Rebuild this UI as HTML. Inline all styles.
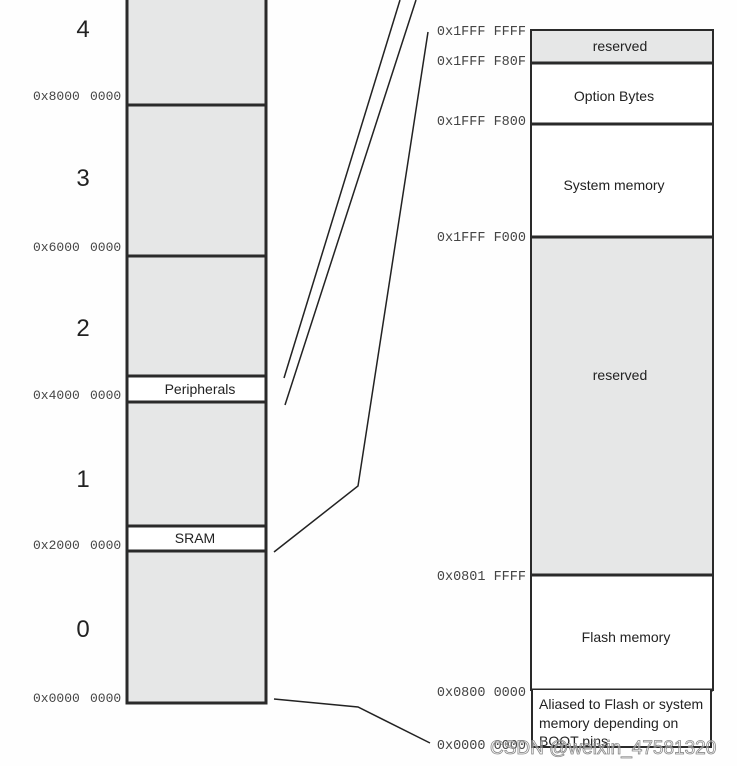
<!DOCTYPE html>
<html><head><meta charset="utf-8"><style>
html,body{margin:0;padding:0;background:#fff;width:737px;height:766px;overflow:hidden}
svg{display:block}
.a{font-family:"Liberation Mono",monospace;fill:#444}
.s{font-family:"Liberation Sans",sans-serif;fill:#222}
</style></head><body>
<svg width="737" height="766" viewBox="0 0 737 766">
<rect x="0" y="0" width="737" height="766" fill="#fefefe"/>
<rect x="127" y="-5" width="139" height="708" fill="#e6e7e7" stroke="#2a2a2a" stroke-width="3"/>
<rect x="127" y="376" width="139" height="26" fill="#fff"/>
<rect x="127" y="526" width="139" height="25" fill="#fff"/>
<g stroke="#2a2a2a" stroke-width="3">
<line x1="127" y1="105" x2="266" y2="105"/>
<line x1="127" y1="256" x2="266" y2="256"/>
<line x1="127" y1="376" x2="266" y2="376"/>
<line x1="127" y1="402" x2="266" y2="402"/>
<line x1="127" y1="526" x2="266" y2="526"/>
<line x1="127" y1="551" x2="266" y2="551"/>
<line x1="127" y1="-5" x2="127" y2="703"/>
<line x1="266" y1="-5" x2="266" y2="703"/>
</g>
<g class="s" font-size="24" text-anchor="middle">
<text x="83" y="37">4</text><text x="83" y="186">3</text><text x="83" y="336">2</text>
<text x="83" y="487">1</text><text x="83" y="637">0</text>
</g>
<text class="s" x="200" y="394" font-size="14" text-anchor="middle">Peripherals</text>
<text class="s" x="195" y="543" font-size="14" text-anchor="middle">SRAM</text>
<g class="a" font-size="13">
<text x="33" y="100">0x8000</text><text x="90" y="100">0000</text>
<text x="33" y="251">0x6000</text><text x="90" y="251">0000</text>
<text x="33" y="399">0x4000</text><text x="90" y="399">0000</text>
<text x="33" y="549">0x2000</text><text x="90" y="549">0000</text>
<text x="33" y="702">0x0000</text><text x="90" y="702">0000</text>
</g>
<g stroke="#222" stroke-width="1.5" fill="none">
<line x1="284" y1="378" x2="400" y2="0"/>
<line x1="285" y1="405" x2="416" y2="0"/>
<polyline points="274,552 358,486 428,32"/>
<polyline points="274,699 358,707 430,743"/>
</g>
<rect x="531" y="30" width="182" height="660" fill="#fff" stroke="#2a2a2a" stroke-width="2"/>
<rect x="532" y="31" width="180" height="32" fill="#e6e7e7"/>
<rect x="532" y="237" width="180" height="338" fill="#e6e7e7"/>
<g stroke="#2a2a2a" stroke-width="3">
<line x1="531" y1="63" x2="713" y2="63"/>
<line x1="531" y1="124" x2="713" y2="124"/>
<line x1="531" y1="237" x2="713" y2="237"/>
<line x1="531" y1="575" x2="713" y2="575"/>
<line x1="531" y1="690" x2="713" y2="690"/>
</g>
<polyline points="532,690 532,747 711,747 711,690" fill="#fff" stroke="#2a2a2a" stroke-width="2"/>
<g class="s" font-size="14" text-anchor="middle">
<text x="620" y="51">reserved</text>
<text x="614" y="101">Option Bytes</text>
<text x="614" y="190">System memory</text>
<text x="620" y="380">reserved</text>
<text x="626" y="642">Flash memory</text>
</g>
<g class="s" font-size="14">
<text x="539" y="709">Aliased to Flash or system</text>
<text x="539" y="728">memory depending on</text>
<text x="539" y="746">BOOT pins</text>
</g>
<g class="a" text-anchor="end" font-size="13.5">
<text x="526" y="35">0x1FFF FFFF</text>
<text x="526" y="65">0x1FFF F80F</text>
<text x="526" y="125">0x1FFF F800</text>
<text x="526" y="241">0x1FFF F000</text>
<text x="526" y="580">0x0801 FFFF</text>
<text x="526" y="696">0x0800 0000</text>
<text x="526" y="749">0x0000 0000</text>
</g>
<text x="490" y="754" font-family="Liberation Sans,sans-serif" font-size="19" fill="#fff" fill-opacity="0.4" stroke="#888" stroke-width="0.8">CSDN @weixin_47581320</text>
</svg>
</body></html>
